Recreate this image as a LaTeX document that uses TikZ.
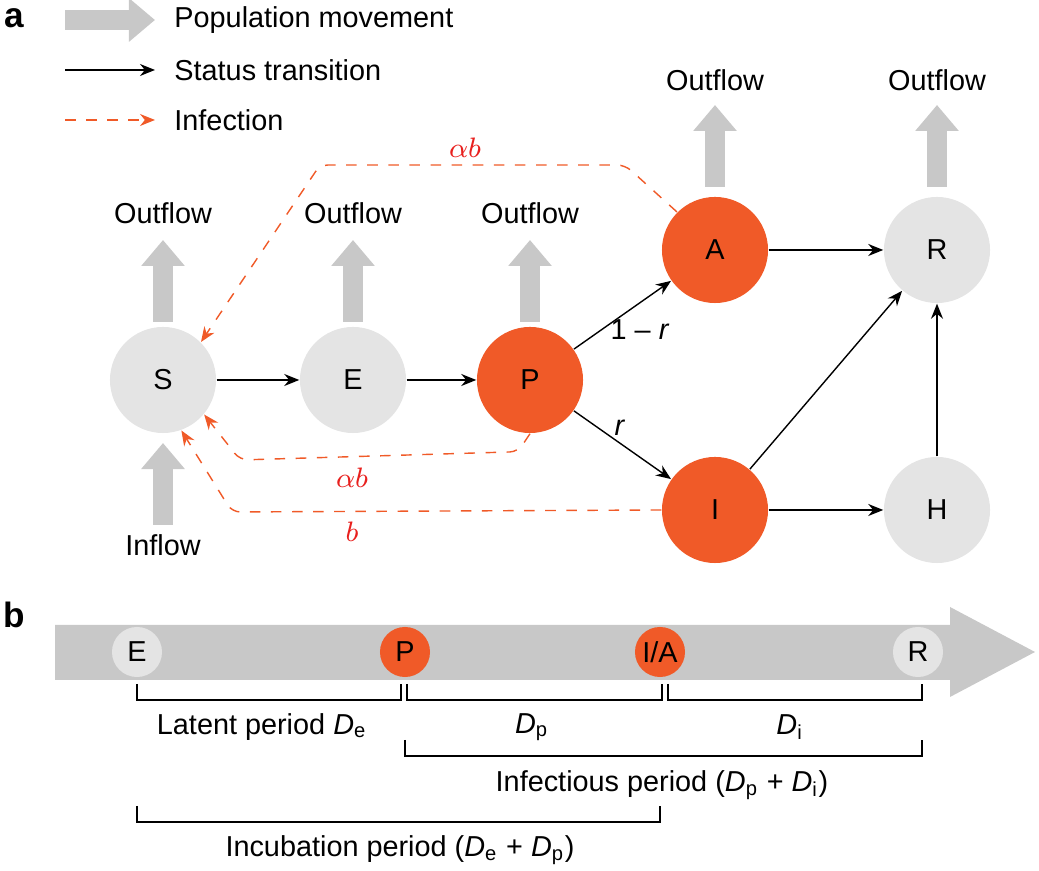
\documentclass[tikz,border=0pt]{standalone}
\usepackage{fontspec}
\setmainfont{Liberation Sans}
\usetikzlibrary{arrows.meta}
\definecolor{lg}{HTML}{E4E4E4}
\definecolor{og}{HTML}{F05A28}
\definecolor{ag}{HTML}{C8C8C8}
\definecolor{rd}{HTML}{E8201E}
\begin{document}
\begin{tikzpicture}[x=0.01cm,y=-0.01cm,font=\fontsize{8.2}{10}\selectfont,
  st/.style={circle,minimum size=1.06cm,inner sep=0pt},
  gs/.style={st,fill=lg},
  os/.style={st,fill=og},
  sm/.style={circle,minimum size=0.5cm,inner sep=0pt},
  tr/.style={-{Stealth[length=0.15cm,width=0.12cm]},line width=0.4pt},
  inf/.style={og,dashed,line width=0.4pt,rounded corners=0.08cm,-{Stealth[length=0.15cm,width=0.12cm]}},
  pop/.style={ag,line width=0.2cm,-{Triangle[length=0.26cm,width=0.42cm]}},
  lab/.style={inner sep=1pt}]
\useasboundingbox (0,0) rectangle (1039,871);
% legend
\node[font=\bfseries\fontsize{10}{12}\selectfont] (la) at (14,18) {a};
\node[font=\bfseries\fontsize{10}{12}\selectfont] (lb) at (14,615) {b};
\coordinate (l1a) at (65,20); \coordinate (l1b) at (155,20);
\coordinate (l2a) at (65,70); \coordinate (l2b) at (155,70);
\coordinate (l3a) at (65,120); \coordinate (l3b) at (155,120);
\draw[pop] (l1a) -- (l1b);
\draw[tr] (l2a) -- (l2b);
\draw[inf] (l3a) -- (l3b);
\node[anchor=west] (t1) at (162,20) {Population movement};
\node[anchor=west] (t2) at (162,70) {Status transition};
\node[anchor=west] (t3) at (162,120) {Infection};
% nodes
\node[gs] (S) at (163,380) {S};
\node[gs] (E) at (353,380) {E};
\node[os] (P) at (530,380) {P};
\node[os] (A) at (715,250) {A};
\node[gs] (R) at (937,250) {R};
\node[os] (I) at (715,510) {I};
\node[gs] (H) at (937,510) {H};
% outflows
\foreach \n/\x in {s/163,e/353,p/530}{
  \coordinate (o\n a) at (\x,322); \coordinate (o\n b) at (\x,240);
  \draw[pop] (o\n a) -- (o\n b);}
\node (os) at (163,213) {Outflow};
\node (oe) at (353,213) {Outflow};
\node (op) at (530,213) {Outflow};
\coordinate (oaa) at (715,187); \coordinate (oab) at (715,105);
\coordinate (ora) at (937,187); \coordinate (orb) at (937,105);
\draw[pop] (oaa) -- (oab); \draw[pop] (ora) -- (orb);
\node (oA) at (715,80) {Outflow};
\node (oR) at (937,80) {Outflow};
\coordinate (ina) at (163,525); \coordinate (inb) at (163,443);
\draw[pop] (ina) -- (inb);
\node (inl) at (163,545) {Inflow};
% transitions
\draw[tr] (S) -- (E);
\draw[tr] (E) -- (P);
\draw[tr] (P) -- (A);
\draw[tr] (P) -- (I);
\draw[tr] (A) -- (R);
\draw[tr] (I) -- (R);
\draw[tr] (I) -- (H);
\draw[tr] (H) -- (R);
\node (l1r) at (640,330) {1 -- \textit{r}};
\node (lr) at (620,428) {\textit{r}};
% infections
\draw[inf] (A.135) -- (625,165) -- (320,165) -- (S.45);
\node[rd] (ab1) at (465,148) {$\alpha b$};
\draw[inf] (P.south) -- ++(-12,18) -- (240,460) -- (S.-40);
\node[rd] (ab2) at (352,478) {$\alpha b$};
\draw[inf] (I.west) -- (232,512) -- (S.-70);
\node[rd] (bb) at (352,532) {$b$};
% part b
\fill[ag] (55,625) -- (950,625) -- (950,607) -- (1035,652) -- (950,697) -- (950,680) -- (55,680) -- cycle;
\node[sm,fill=lg] (e2) at (137,652) {E};
\node[sm,fill=og] (p2) at (405,652) {P};
\node[sm,fill=og] (i2) at (660,652) {I/A};
\node[sm,fill=lg] (r2) at (918,652) {R};
\draw (137,684) -- (137,700) -- (401,700) -- (401,684);
\draw (407,684) -- (407,700) -- (662,700) -- (662,684);
\draw (668,684) -- (668,700) -- (922,700) -- (922,684);
\node (lp) at (262,727) {Latent period \textit{D}\textsubscript{e}};
\node (dp) at (532,727) {\textit{D}\textsubscript{p}};
\node (di) at (790,727) {\textit{D}\textsubscript{i}};
\draw (405,740) -- (405,756) -- (922,756) -- (922,740);
\node (ip) at (662,785) {Infectious period (\textit{D}\textsubscript{p} + \textit{D}\textsubscript{i})};
\draw (137,806) -- (137,822) -- (660,822) -- (660,806);
\node (icp) at (400,850) {Incubation period (\textit{D}\textsubscript{e} + \textit{D}\textsubscript{p})};
\end{tikzpicture}
\end{document}
